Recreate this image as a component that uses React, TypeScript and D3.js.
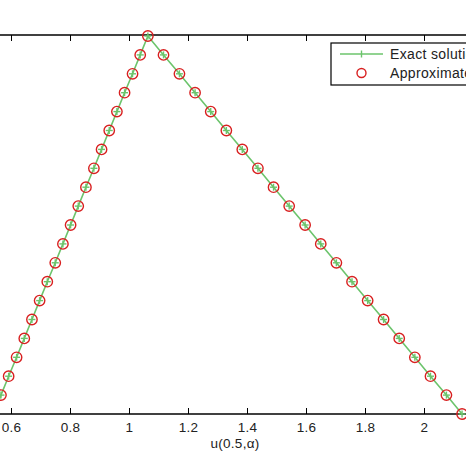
import { useRef, useEffect } from "react";
import * as d3 from "d3";

// alpha levels and the two branches of u(0.5, alpha)
const alphas = [0, 0.05, 0.1, 0.15, 0.2, 0.25, 0.3, 0.35, 0.4, 0.45, 0.5, 0.55, 0.6, 0.65, 0.7, 0.75, 0.8, 0.85, 0.9, 0.95, 1];
const lowerU = [0.540, 0.566, 0.592, 0.619, 0.645, 0.671, 0.697, 0.723, 0.750, 0.776, 0.802, 0.828, 0.854, 0.881, 0.907, 0.933, 0.959, 0.985, 1.012, 1.038, 1.064];
const upperU = [2.129, 2.076, 2.022, 1.969, 1.916, 1.863, 1.809, 1.756, 1.703, 1.650, 1.597, 1.543, 1.490, 1.437, 1.384, 1.330, 1.277, 1.224, 1.171, 1.117, 1.064];
const xTicks = [0.4, 0.6, 0.8, 1, 1.2, 1.4, 1.6, 1.8, 2, 2.2];
const legendLabels = ["Exact solution", "Approximate solution"];

const W = 466;
const H = 466;
const TOP = 35;
const BOTTOM = 414;
const GREEN = "#6cc46c";
const RED = "#d82020";
const FONT = "Liberation Sans, Arial, sans-serif";

export default function App() {
  const axesRef = useRef(null);

  const xScale = d3.scaleLinear().domain([0.6, 2]).range([11, 424]);
  const yScale = d3.scaleLinear().domain([0, 1]).range([BOTTOM, TOP + 1]);

  // lower branch upwards then upper branch back down
  const pts: [number, number][] = [
    ...alphas.map((a, i) => [lowerU[i], a] as [number, number]),
    ...alphas.slice(0, -1).reverse().map((a) => [upperU[alphas.indexOf(a)], a] as [number, number]),
  ];

  const line = d3
    .line<[number, number]>()
    .x((d) => xScale(d[0]))
    .y((d) => yScale(d[1]));

  useEffect(() => {
    const g = d3.select(axesRef.current);
    g.selectAll("*").remove();
    const bottom = g
      .append("g")
      .attr("transform", `translate(0,${BOTTOM})`)
      .call(d3.axisBottom(xScale).tickValues(xTicks).tickSize(-6).tickPadding(8).tickFormat((d) => String(d)));
    bottom.select(".domain").remove();
    bottom
      .selectAll("text")
      .attr("font-size", 13.5)
      .attr("letter-spacing", 0.3)
      .attr("font-family", FONT)
      .attr("fill", "#222");
    bottom.selectAll("line").attr("stroke", "#000");

    const top = g
      .append("g")
      .attr("transform", `translate(0,${TOP})`)
      .call(d3.axisTop(xScale).tickValues(xTicks).tickSize(-6).tickFormat(() => ""));
    top.select(".domain").remove();
    top.selectAll("line").attr("stroke", "#000");
  }, []);

  return (
    <svg
      width={W}
      height={H}
      style={{ position: "absolute", left: 0, top: 0, background: "#fff" }}
      fontFamily={FONT}
    >
      <rect x={0} y={0} width={W} height={H} fill="#fff" />
      <line x1={0} x2={W} y1={TOP} y2={TOP} stroke="#000" strokeWidth={1.5} />
      <line x1={0} x2={W} y1={BOTTOM} y2={BOTTOM} stroke="#000" strokeWidth={1.5} />
      <g ref={axesRef} />

      <path d={line(pts) || ""} fill="none" stroke={GREEN} strokeWidth={1.6} />
      {pts.map((d, i) => (
        <g key={i} transform={`translate(${xScale(d[0])},${yScale(d[1])})`}>
          <circle r={5.2} fill="none" stroke={RED} strokeWidth={1.4} />
          <line x1={-3.5} x2={3.5} y1={0} y2={0} stroke={GREEN} strokeWidth={1.4} />
          <line x1={0} x2={0} y1={-3.5} y2={3.5} stroke={GREEN} strokeWidth={1.4} />
        </g>
      ))}

      <text x={235} y={448} textAnchor="middle" fontSize={13.5} letterSpacing={0.3} fill="#222">
        u(0.5,α)
      </text>

      <g>
        <rect x={331} y={43} width={160} height={42} fill="#fff" stroke="#000" strokeWidth={1.2} />
        <line x1={340} x2={383} y1={54} y2={54} stroke={GREEN} strokeWidth={1.4} />
        <line x1={361.5} x2={361.5} y1={50.5} y2={57.5} stroke={GREEN} strokeWidth={1.4} />
        <circle cx={361.5} cy={73} r={4.5} fill="none" stroke={RED} strokeWidth={1.4} />
        <text x={390} y={59} fontSize={14} letterSpacing={0.35} fill="#222">{legendLabels[0]}</text>
        <text x={390} y={78} fontSize={14} letterSpacing={0.35} fill="#222">{legendLabels[1]}</text>
      </g>
    </svg>
  );
}
